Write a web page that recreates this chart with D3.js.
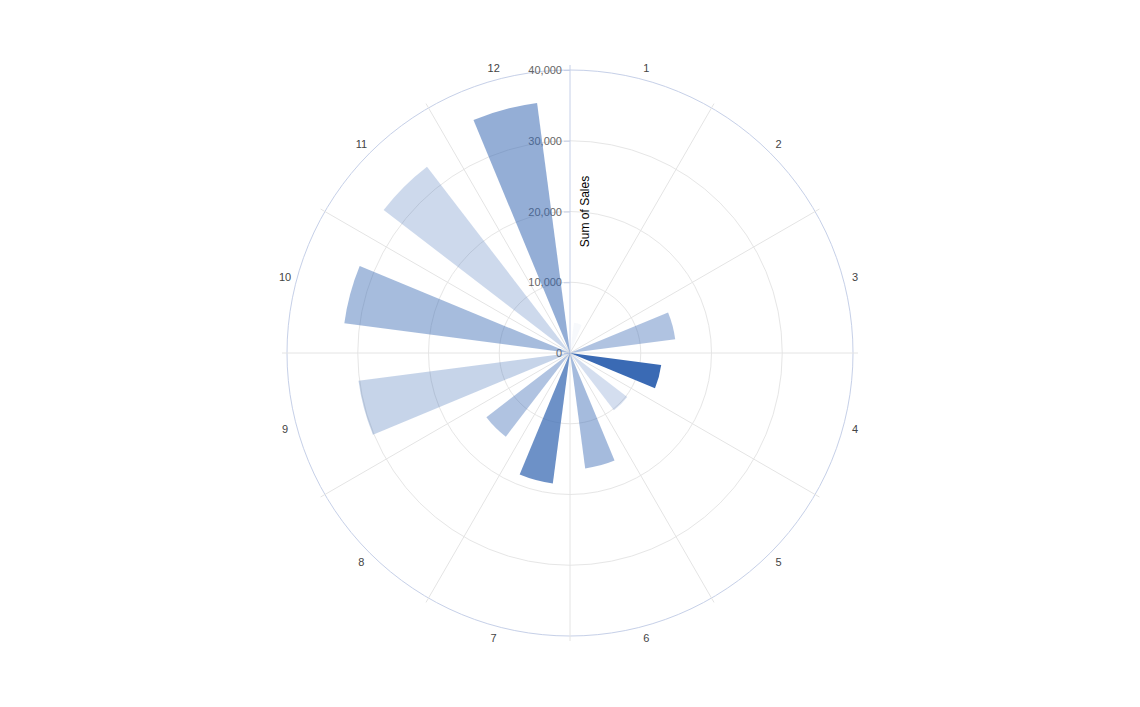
<!DOCTYPE html>
<html>
<head>
<meta charset="utf-8">
<script src="https://cdn.jsdelivr.net/npm/d3@7"></script>
<style>
    body { margin: 0; background: #fff; }
    text { font-family: "Liberation Sans", Arial, Helvetica, sans-serif; }
</style>
</head>
<body>
<div class="roseDiv"></div>
<script>
"use strict"

// months (order of the sectors, clockwise from the top)
var months = ["1", "2", "3", "4", "5", "6", "7", "8", "9", "10", "11", "12"];

// sum of sales per month (bar length)
var sales = [4300, 4000, 15000, 13000, 10200, 16450, 18600, 14900, 30150, 32170, 33200, 35650];

// second measure per month, shown as bar opacity
var profit = [500, 0, 4800, 12000, 2640, 5520, 8880, 4800, 3500, 5400, 3050, 6500];

// radial axis ticks
var salesTicks = [0, 10000, 20000, 30000, 40000];

var width = 1140;
var height = 707;
var cx = 570;
var cy = 353;
var outerRadius = 283;
var labelRadius = 295;
var spokeExtra = 5;
var barColor = "#3a6ab4";

var svg = d3.select(".roseDiv").append("svg")
    .attr("width", width)
    .attr("height", height);

var g = svg.append("g")
    .attr("transform", "translate(" + cx + "," + cy + ")");

var r = d3.scaleLinear()
    .domain([0, 40000])
    .range([0, outerRadius]);

var angle = d3.scaleBand()
    .domain(months)
    .range([0, 2 * Math.PI])
    .paddingInner(0.5)
    .paddingOuter(0.25);

var opacity = d3.scaleLinear()
    .domain([0, d3.max(profit)])
    .range([0, 1]);

var step = angle.step();

// grid circles
g.append("g").selectAll("circle")
    .data(salesTicks.slice(1))
    .enter()
    .append("circle")
    .attr("r", function(d) { return r(d) })
    .attr("fill", "none")
    .attr("stroke", function(d) { return d === 40000 ? "#c6d0e8" : "#e6e6e6" })
    .attr("stroke-width", 1);

// spokes on sector boundaries
g.append("g").selectAll("line")
    .data(months)
    .enter()
    .append("line")
    .attr("x1", 0)
    .attr("y1", 0)
    .attr("x2", function(d, i) { return Math.sin(i * step) * (outerRadius + spokeExtra) })
    .attr("y2", function(d, i) { return -Math.cos(i * step) * (outerRadius + spokeExtra) })
    .attr("stroke", function(d, i) { return i === 0 ? "none" : "#e4e4e4" })
    .attr("stroke-width", 1);

// radial axis (vertical, going up)
var axisGroup = g.append("g");
var axis = d3.axisLeft(d3.scaleLinear().domain([0, 40000]).range([0, -outerRadius]))
    .tickValues(salesTicks)
    .tickSize(6)
    .tickPadding(2)
    .tickFormat(d3.format(","));
axisGroup.call(axis);
axisGroup.select(".domain").remove();
axisGroup.selectAll(".tick line").attr("stroke", "#c6d0e8");
axisGroup.selectAll(".tick text")
    .attr("fill", "#666")
    .attr("font-size", 11)
    .style("font-family", "'Liberation Sans', Arial, sans-serif");
axisGroup.append("line")
    .attr("x1", 0).attr("y1", 0)
    .attr("x2", 0).attr("y2", -(outerRadius + spokeExtra))
    .attr("stroke", "#c6d0e8")
    .attr("stroke-width", 1);

// bars
var arc = d3.arc()
    .innerRadius(0)
    .outerRadius(function(d, i) { return r(d.sales) })
    .startAngle(function(d) { return angle(d.month) })
    .endAngle(function(d) { return angle(d.month) + angle.bandwidth() });

var rows = months.map(function(m, i) { return {month: m, sales: sales[i], profit: profit[i]} });

g.append("g").selectAll("path")
    .data(rows)
    .enter()
    .append("path")
    .attr("d", arc)
    .attr("fill", barColor)
    .attr("fill-opacity", function(d) { return opacity(d.profit) })
    .append("title")
    .text(function(d) { return "Month: " + d.month + "\nSum of Sales: " + d3.format(",")(d.sales) });

// month labels
g.append("g").selectAll("text")
    .data(months)
    .enter()
    .append("text")
    .text(function(d) { return d })
    .attr("x", function(d) { return Math.sin(angle(d) + angle.bandwidth() / 2) * labelRadius })
    .attr("y", function(d) { return -Math.cos(angle(d) + angle.bandwidth() / 2) * labelRadius })
    .attr("text-anchor", "middle")
    .attr("dominant-baseline", "central")
    .attr("fill", "#444")
    .attr("font-size", 11);

// axis title
g.append("text")
    .text("Sum of Sales")
    .attr("transform", "translate(15," + (-r(20000)) + ") rotate(-90)")
    .attr("text-anchor", "middle")
    .attr("dominant-baseline", "central")
    .attr("fill", "#000")
    .attr("font-size", 12);
</script>
</body>
</html>
